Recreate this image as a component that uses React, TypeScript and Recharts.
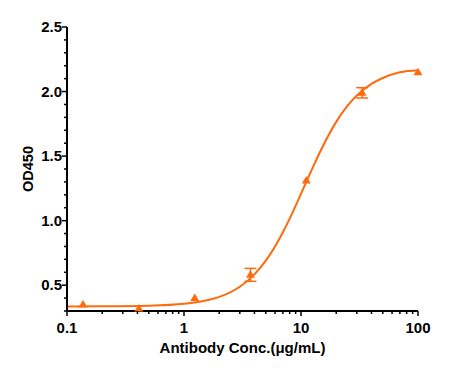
import React from "react";
import {
  ComposedChart,
  Line,
  Scatter,
  ErrorBar,
  XAxis,
  YAxis,
} from "recharts";

// measured points (mean ± SD)
const conc = [0.137, 0.412, 1.235, 3.7, 11.1, 33.3, 100];
const od = [0.35, 0.32, 0.4, 0.58, 1.31, 1.99, 2.15];
const sd = [0, 0, 0, 0.05, 0, 0.04, 0];

// fitted curve
const fitX = [0.1, 0.2, 0.5, 1, 1.5, 2, 3, 4, 5, 6, 7, 8, 10, 12, 15, 20, 25, 30, 40, 50, 70, 100];
const fitY = [0.335, 0.336, 0.341, 0.356, 0.379, 0.409, 0.488, 0.584, 0.69, 0.8, 0.91, 1.016, 1.208, 1.369, 1.557, 1.765, 1.89, 1.969, 2.059, 2.105, 2.149, 2.165];

const xMajor = [0.1, 1, 10, 100];
const xMinor = [0.2, 0.3, 0.4, 0.5, 0.6, 0.7, 0.8, 0.9, 2, 3, 4, 5, 6, 7, 8, 9, 20, 30, 40, 50, 60, 70, 80, 90];
const yMajor = [0.5, 1.0, 1.5, 2.0, 2.5];
const yMinor = [0.3, 0.4, 0.6, 0.7, 0.8, 0.9, 1.1, 1.2, 1.3, 1.4, 1.6, 1.7, 1.8, 1.9, 2.1, 2.2, 2.3, 2.4];

const ORANGE = "#FF6A0D";
const FONT = "'Liberation Sans', Arial, sans-serif";

const points = conc.map((x, i) => ({ x, y: od[i], err: sd[i] }));
const fit = fitX.map((x, i) => ({ x, y: fitY[i] }));

const XTick = (props: any) => {
  const { x, y, payload } = props;
  const major = xMajor.includes(payload.value);
  return (
    <g>
      <line x1={x} x2={x} y1={y} y2={y + (major ? 5 : 3)} stroke="#000" strokeWidth={1.5} />
      {major && (
        <text x={x} y={y + 22} textAnchor="middle" fontFamily={FONT} fontWeight="bold" fontSize={15} fill="#000">
          {payload.value}
        </text>
      )}
    </g>
  );
};

const YTick = (props: any) => {
  const { x, y, payload } = props;
  const major = yMajor.includes(payload.value);
  return (
    <g>
      <line x1={x} x2={x - (major ? 5 : 3)} y1={y} y2={y} stroke="#000" strokeWidth={1.5} />
      {major && (
        <text x={x - 5} y={y + 5} textAnchor="end" fontFamily={FONT} fontWeight="bold" fontSize={15} fill="#000">
          {payload.value.toFixed(1)}
        </text>
      )}
    </g>
  );
};

const Triangle = (props: any) => {
  const { cx, cy } = props;
  return (
    <polygon
      points={`${cx},${cy - 4.5} ${cx - 4.5},${cy + 3} ${cx + 4.5},${cy + 3}`}
      fill={ORANGE}
    />
  );
};

export default function App() {
  return (
    <div style={{ position: "absolute", left: 0, top: 0, background: "#fff" }}>
      <ComposedChart
        width={451}
        height={373}
        margin={{ top: 27, right: 33, bottom: 22, left: 7 }}
      >
        <XAxis
          dataKey="x"
          type="number"
          scale="log"
          domain={[0.1, 100]}
          ticks={[...xMajor, ...xMinor]}
          interval={0}
          axisLine={{ stroke: "#000", strokeWidth: 2 }}
          tickLine={false}
          tickSize={0}
          tickMargin={0}
          tick={<XTick />}
          height={40}
          label={{
            value: "Antibody Conc.(μg/mL)",
            position: "insideBottom",
            offset: -2,
            style: { fontFamily: FONT, fontWeight: "bold", fontSize: 15, fill: "#000" },
          }}
        />
        <YAxis
          dataKey="y"
          type="number"
          domain={[0.3, 2.5]}
          ticks={[...yMajor, ...yMinor]}
          interval={0}
          axisLine={{ stroke: "#000", strokeWidth: 2 }}
          tickLine={false}
          tickSize={0}
          tickMargin={0}
          tick={<YTick />}
          width={60}
          label={{
            value: "OD450",
            angle: -90,
            position: "insideLeft",
            offset: 21,
            style: { fontFamily: FONT, fontWeight: "bold", fontSize: 14.5, fill: "#000", textAnchor: "middle" },
          }}
        />
        <Line
          data={fit}
          dataKey="y"
          type="monotone"
          stroke={ORANGE}
          strokeWidth={2}
          dot={false}
          isAnimationActive={false}
        />
        <Scatter data={points} dataKey="y" shape={<Triangle />} fill={ORANGE} isAnimationActive={false}>
          <ErrorBar dataKey="err" direction="y" width={6} stroke={ORANGE} strokeWidth={1.5} />
        </Scatter>
      </ComposedChart>
    </div>
  );
}
